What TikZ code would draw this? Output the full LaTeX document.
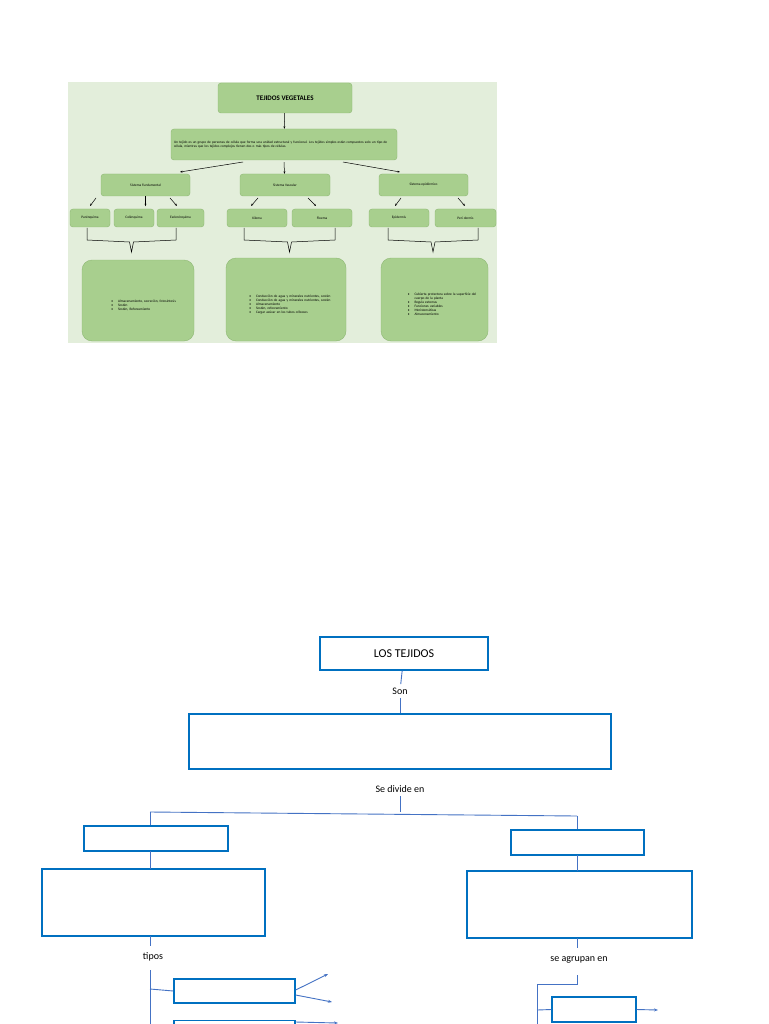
\documentclass[tikz,border=0pt]{standalone}
\usepackage{fontspec}
\setmainfont{Carlito}
\usetikzlibrary{arrows.meta}
\definecolor{bgg}{HTML}{E3EEDB}
\definecolor{gbox}{HTML}{A8CF8E}
\definecolor{gline}{HTML}{8DB873}
\definecolor{bl}{HTML}{0070C0}
\definecolor{bll}{HTML}{4472C4}
\begin{document}
\begin{tikzpicture}[x=1pt,y=-1pt,
 gb/.style={draw=gline,fill=gbox,rounded corners=3pt,inner sep=1pt,align=center,font=\fontsize{3.5}{4}\selectfont},
 bb/.style={draw=bl,line width=1.3pt},
 ln/.style={draw=bll,line width=0.9pt},
 ar/.style={ln,-{Stealth[length=4pt]}},
 ka/.style={-{Stealth[length=2.5pt]},line width=0.5pt},
 lab/.style={font=\fontsize{10}{12}\selectfont}]
\useasboundingbox (0,0) rectangle (768,1024);
\fill[white] (0,0) rectangle (768,1024);
% top picture
\fill[bgg] (68,82) rectangle (497,343);
\node[gb,minimum width=134pt,minimum height=30pt,font=\bfseries\fontsize{7}{8}\selectfont] (tv) at (285,98) {TEJIDOS VEGETALES};
\node[gb,minimum width=226pt,minimum height=31pt,text width=220pt,align=left] (def) at (284,144.5) {Un tejido es un grupo de personas de célula que forma una unidad estructural y funcional. Los tejidos simples están compuestos solo un tipo de célula, mientras que los tejidos complejos tienen dos o más tipos de células.};
\node[gb,minimum width=89pt,minimum height=22pt] (sf) at (145.5,185) {Sistema Fundamental};
\node[gb,minimum width=90pt,minimum height=22pt] (sv) at (285,185) {Sistema Vascular};
\node[gb,minimum width=89pt,minimum height=22pt] (se) at (423.5,185) {Sistema epidérmico};
\foreach \n/\x/\w/\t in {pa/90/40/Parénquima,co/134/40/Colénquima,es/180.5/47/Esclerénquima,xi/257/60/Xilema,fl/322/60/Floema,ep/399/60/Epidermis,pe/465.5/61/Peri dermis}
  \node[gb,minimum width=\w pt,minimum height=18pt] (\n) at (\x,218) {\t};
\draw[ka] (tv) -- (def);
\draw[ka] (243,162) -- (180,172);
\draw[ka] (def.south) ++(0,2) -- (sv);
\draw[ka] (343,162) -- (400,172);
\draw[ka] (96,198) -- (90,206);
\draw[ka] (sf.south) -- ++(0,10);
\draw[ka] (170,198) -- (177,206);
\draw[ka] (258,198) -- (251,206);
\draw[ka] (308,198) -- (316,206);
\draw[ka] (401,198) -- (395,206);
\draw[ka] (458,198) -- (465,206);
\foreach \a/\b in {87/176,244/335,388/478}
  \draw[line width=0.5pt] (\a,228) -- (\a,240) -- ({(\a+\b)/2-2},242) -- ({(\a+\b)/2},252) -- ({(\a+\b)/2+2},242) -- (\b,240) -- (\b,228);
\node[gb,minimum width=112pt,minimum height=81pt,rounded corners=10pt,text width=90pt,align=left] (b1) at (138,300.5) {\begin{itemize}\setlength\itemsep{0pt}\setlength\parskip{0pt}\item Almacenamiento, secreción, fotosíntesis\item Sostén\item Sostén, Reforzamiento\end{itemize}};
\node[gb,minimum width=120pt,minimum height=83pt,rounded corners=10pt,text width=110pt,align=left] (b2) at (286,299.5) {\begin{itemize}\setlength\itemsep{0pt}\setlength\parskip{0pt}\item Conducción de agua y minerales nutrientes, sostén\item Conducción de agua y minerales nutrientes, sostén\item Almacenamiento\item Sostén, reforzamiento\item Cargar azúcar en los tubos cribosos\end{itemize}};
\node[gb,minimum width=107pt,minimum height=83pt,rounded corners=10pt,text width=90pt,align=left] (b3) at (434.5,299.5) {\begin{itemize}\setlength\itemsep{0pt}\setlength\parskip{0pt}\item Cubierta protectora sobre la superficie del cuerpo de la planta\item Regula estomas\item Funciones variables\item Meristemáticas\item Almacenamiento\end{itemize}};
% lower concept map
\node[bb,minimum width=168pt,minimum height=33pt,lab,font=\fontsize{12}{14}\selectfont] (lt) at (404,653.5) {LOS TEJIDOS};
\node[lab] (son) at (400,691) {Son};
\node[bb,minimum width=422pt,minimum height=55pt] (def2) at (400,741.5) {};
\node[lab] (div) at (400,789) {Se divide en};
\node[bb,minimum width=144pt,minimum height=25pt] (l1) at (156,838.5) {};
\node[bb,minimum width=223pt,minimum height=67pt] (l2) at (153.5,902.5) {};
\node[bb,minimum width=133pt,minimum height=25pt] (r1) at (577.5,842.5) {};
\node[bb,minimum width=225pt,minimum height=67pt] (r2) at (579.5,904.5) {};
\node[lab] (tip) at (153,957) {tipos};
\node[lab] (agr) at (579,960) {se agrupan en};
\node[bb,minimum width=121pt,minimum height=24pt] (t1) at (234.5,991) {};
\node[bb,minimum width=121pt,minimum height=24pt,anchor=north] (t2) at (234.5,1020) {};
\node[bb,minimum width=84pt,minimum height=25pt] (g1) at (594,1009.5) {};
\coordinate (j) at (400,812);
\draw[ln] (lt) -- (son);
\draw[ln] (son) -- (def2);
\draw[ln] (div.south) -- (j);
\draw[ln] (150,812) -- (577,816);
\draw[ln] (150,812) -- (l1.north -| 150,0);
\draw[ln] (577,816) -- (r1.north -| 577,0);
\draw[ln] (150,851) -- (150,869);
\draw[ln] (577,855) -- (577,871);
\draw[ln] (150,936) -- (150,946);
\draw[ln] (577,938) -- (577,948);
\draw[ln] (150,970) -- (150,1024);
\draw[ln] (150,989) -- (t1.west);
\draw[ln] (577,975) -- (577,984) -- (537,984) -- (537,1024);
\draw[ln] (537,1010) -- (g1.west);
\coordinate (a1) at (328,974); \coordinate (a2) at (332,1002);
\coordinate (a3) at (338,1023); \coordinate (a4) at (658,1010);
\draw[ar] (t1.east) ++(0,-1) -- (a1);
\draw[ar] (t1.east) ++(0,4) -- (a2);
\draw[ar] (t2.north east) ++(0,2) -- (a3);
\draw[ar] (g1.east) -- (a4);
\end{tikzpicture}
\end{document}
